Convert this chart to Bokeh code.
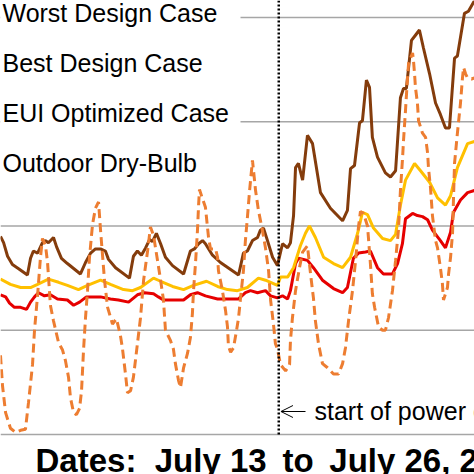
from bokeh.plotting import figure
from bokeh.models import Range1d, Span, Label, Arrow, OpenHead, BoxAnnotation
from bokeh.embed import file_html
from bokeh.resources import INLINE

# ---------------- data (hours since July 13 00:00, temperature) ----------------
worst_hours = [42.0, 43.4, 45.2, 47.4, 50.2, 54.2, 55.6, 56.9, 58.8, 61.0, 62.4, 63.7, 66.0, 67.4, 69.6, 72.3,
               78.2, 80.5, 82.8, 85.0, 87.3, 89.5, 90.9, 94.1, 100.4, 102.2, 104.0, 105.8, 107.7, 109.5, 110.8,
               112.6, 114.5, 116.7, 119.9, 124.9, 128.0, 129.8, 131.7, 133.5, 134.8, 138.0, 141.6, 149.8, 152.0,
               153.8, 156.1, 158.4, 159.7, 161.1, 162.9, 165.2, 167.4, 169.7, 172.0, 173.3, 174.7, 175.6, 176.9,
               178.8, 181.0, 183.3, 186.9, 191.4, 196.9, 199.1, 200.5, 202.3, 204.6, 205.9, 207.7, 209.1, 210.4,
               212.7, 216.3, 218.6, 220.9, 223.1, 224.5, 225.8, 228.1, 229.9, 231.7, 233.5, 236.3, 239.0, 241.2,
               243.5, 245.3, 247.6, 248.9, 252.1, 253.9, 256.6]
worst_temp = [79.0, 78.4, 77.1, 76.3, 75.9, 75.3, 76.9, 77.6, 77.4, 78.4, 78.6, 78.4, 78.9, 78.0, 76.9, 76.4,
              75.4, 76.5, 77.4, 77.8, 77.8, 77.6, 76.8, 76.0, 75.0, 77.1, 77.6, 77.2, 77.9, 78.7, 78.5,
              79.3, 78.3, 77.0, 76.2, 75.4, 77.6, 77.8, 78.3, 78.6, 78.3, 77.2, 76.5, 75.3, 77.4,
              77.6, 78.6, 78.9, 79.6, 79.8, 78.6, 77.0, 76.2, 78.3, 77.9, 78.4, 81.0, 85.6, 86.0,
              84.4, 88.7, 87.9, 83.2, 81.7, 80.5, 81.5, 85.5, 85.8, 89.9, 90.1, 94.0, 93.3, 88.5,
              86.6, 85.1, 84.7, 85.3, 92.3, 93.2, 93.2, 97.8, 98.3, 98.8, 97.1, 94.6, 91.8, 90.7,
              89.4, 89.4, 96.1, 96.3, 100.4, 100.6, 101.6]

best_hours = [42.0, 44.3, 46.1, 48.3, 51.1, 53.8, 55.6, 57.4, 59.2, 61.9, 64.6, 67.8, 72.3, 75.1, 77.8, 80.9,
              84.1, 87.3, 91.8, 95.4, 100.0, 104.0, 107.2, 111.3, 113.5, 115.8, 124.9, 128.0, 131.2, 134.8,
              140.3, 146.2, 149.8, 152.9, 155.2, 158.4, 162.0, 164.3, 167.4, 169.7, 172.0, 173.3, 175.6, 176.9,
              181.0, 183.7, 187.8, 192.8, 196.9, 199.1, 201.8, 204.1, 207.3, 209.5, 212.7, 215.4, 219.5, 221.8,
              224.0, 225.4, 228.6, 230.8, 233.1, 235.4, 237.6, 241.2, 243.5, 245.8, 247.1, 250.3, 253.5, 256.6]
best_temp = [73.4, 73.2, 72.6, 72.2, 72.2, 72.0, 72.7, 73.2, 73.6, 73.3, 73.4, 73.0, 72.9, 72.4, 72.7, 73.2,
             73.2, 73.2, 73.0, 72.9, 72.7, 73.4, 73.6, 73.5, 73.2, 72.9, 72.9, 73.4, 73.6, 73.3,
             73.0, 73.0, 73.0, 73.6, 73.8, 73.6, 73.8, 73.3, 73.1, 73.3, 73.0, 73.8, 76.4, 76.9,
             76.7, 76.0, 74.8, 74.0, 73.6, 74.1, 76.9, 77.4, 77.5, 77.6, 76.0, 75.4, 75.4, 76.4,
             78.3, 80.7, 81.2, 81.0, 80.9, 80.6, 79.6, 78.6, 77.9, 79.4, 81.3, 82.5, 83.2, 83.4]

eui_hours = [42.0, 46.5, 51.1, 55.6, 58.8, 63.7, 68.3, 72.3, 77.3, 81.4, 87.3, 91.8, 97.7, 101.8, 105.4, 111.3,
             114.5, 119.9, 124.9, 129.4, 135.3, 140.3, 144.8, 149.3, 153.8, 158.8, 162.0, 167.4, 168.8, 172.0,
             174.7, 177.8, 180.1, 181.9, 184.6, 188.3, 192.8, 196.9, 200.5, 203.7, 205.9, 208.2, 210.9, 215.0,
             218.6, 220.9, 223.1, 225.4, 229.5, 232.2, 236.3, 239.9, 243.5, 245.8, 248.9, 253.5, 256.6]
eui_temp = [74.9, 74.4, 74.1, 74.1, 74.4, 74.9, 74.6, 74.3, 73.9, 74.3, 74.8, 74.4, 73.9, 73.8, 74.1, 75.0,
            74.7, 74.2, 73.9, 74.3, 74.7, 74.2, 73.9, 73.8, 74.1, 75.0, 74.8, 74.3, 75.1, 75.1,
            76.0, 78.1, 79.3, 80.0, 78.9, 77.0, 76.4, 76.0, 77.0, 79.3, 81.3, 81.1, 79.8, 78.8,
            78.6, 79.2, 82.0, 84.4, 86.0, 85.3, 84.2, 82.7, 82.0, 82.9, 85.6, 87.9, 88.1]

outdoor_hours = [42.0, 42.9, 44.3, 46.5, 48.8, 51.1, 53.3, 54.7, 56.5, 57.4, 58.8, 60.1, 61.0, 62.4, 63.3, 64.6,
                 66.0, 68.3, 70.1, 71.4, 72.8, 73.7, 75.1, 76.4, 77.8, 78.7, 79.6, 80.5, 81.4, 82.3, 83.7, 85.0,
                 86.4, 87.3, 88.2, 89.1, 90.5, 92.7, 94.5, 96.3, 97.2, 98.6, 99.5, 100.9, 102.2, 104.0, 105.4,
                 106.8, 108.6, 109.9, 111.3, 113.1, 114.5, 115.8, 116.7, 119.0, 120.3, 121.2, 122.6, 123.5, 124.9,
                 126.7, 128.0, 128.9, 129.4, 130.3, 131.2, 131.7, 132.1, 133.5, 134.8, 136.2, 137.1, 139.4, 140.3,
                 140.7, 142.5, 143.9, 144.8, 145.2, 146.2, 147.5, 148.9, 149.8, 150.7, 152.0, 152.9, 153.8, 154.8,
                 156.1, 157.5, 158.8, 160.6, 162.0, 163.4, 164.3, 165.6, 166.5, 167.4, 168.8, 171.1, 172.9, 173.3,
                 174.2, 175.6, 177.4, 178.8, 181.0, 182.4, 183.7, 184.6, 186.0, 187.8, 190.1, 192.8, 195.1, 196.9,
                 198.2, 199.6, 201.4, 202.8, 204.1, 205.0, 206.4, 208.2, 208.6, 209.5, 210.4, 211.4, 213.2, 215.0,
                 216.3, 217.7, 219.5, 220.9, 222.2, 223.1, 224.0, 224.5, 225.4, 226.3, 226.8, 228.6, 229.0, 229.5,
                 229.9, 230.8, 231.3, 233.1, 234.5, 235.4, 235.8, 236.7, 237.6, 239.0, 239.9, 241.2, 242.1, 242.6,
                 244.4, 244.9, 245.8, 246.7, 247.1, 247.6, 248.9, 250.3, 251.2, 251.7, 252.6, 253.5, 255.3, 256.6]
outdoor_temp = [67.6, 64.7, 62.1, 60.6, 60.2, 60.4, 60.5, 63.1, 66.7, 70.0, 73.4, 77.0, 78.8, 78.1, 76.5, 72.4,
                70.9, 68.8, 68.1, 67.1, 65.5, 63.5, 62.1, 61.9, 62.5, 64.2, 68.1, 71.2, 73.8, 77.0, 80.2, 81.7,
                82.3, 79.6, 77.2, 74.8, 72.2, 70.6, 71.1, 69.5, 68.3, 65.8, 64.0, 64.2, 65.5, 68.7, 71.2,
                74.8, 77.6, 79.9, 79.1, 76.7, 74.8, 72.9, 70.0, 69.0, 68.2, 66.8, 65.2, 64.5, 66.4,
                67.8, 69.3, 71.6, 73.8, 76.4, 79.6, 82.0, 83.5, 82.6, 81.8, 78.9, 77.8, 77.8, 77.0,
                75.7, 73.8, 71.9, 70.3, 68.5, 67.9, 68.3, 70.0, 71.2, 73.1, 75.7, 78.6, 80.8, 83.4,
                86.3, 83.4, 81.5, 79.6, 77.9, 75.7, 72.9, 70.6, 68.7, 68.2, 66.7, 66.1, 66.7, 69.0,
                71.2, 73.8, 76.0, 77.5, 78.1, 75.4, 73.1, 70.9, 68.7, 66.8, 66.4, 65.8, 65.8, 66.8,
                68.3, 70.9, 73.8, 76.7, 79.9, 81.4, 81.2, 80.0, 78.9, 76.4, 73.5, 72.2, 70.3, 70.0,
                70.0, 71.2, 73.8, 76.7, 79.6, 83.4, 86.3, 88.2, 91.1, 94.2, 95.6, 96.6, 95.9, 94.6,
                93.3, 91.8, 90.1, 88.9, 88.5, 87.0, 85.6, 83.7, 81.0, 78.6, 77.9, 76.0, 74.5, 72.9,
                74.1, 75.4, 77.0, 79.3, 82.4, 86.0, 88.9, 91.8, 94.2, 95.2, 94.6, 94.2, 94.1, 94.2]

series_names = ["Worst Design Case", "Best Design Case", "EUI Optimized Case", "Outdoor Dry-Bulb"]
grid_ticks = [60, 70, 80, 90, 100]
outage_hour = 168.0
outage_label = "start of power outage"
dates_label = "Dates:\u00a0\u00a0July 13\u2009 to\u2009 July 26, 2018"

# ---------------- layout helpers (screen px -> data, for annotation placement) ----------------
W = H = 474
PX_PER_HOUR = 53.0 / 24.0
PX_PER_DEG = 10.425
X_START = 42.0
BASE_PY = 434
TXT_OFF = 8  # label baseline correction in px

x_end = X_START + W / PX_PER_HOUR
y_top = grid_ticks[0] + BASE_PY / PX_PER_DEG
y_bot = grid_ticks[0] - (H - BASE_PY) / PX_PER_DEG


def hx(px):
    return X_START + px / PX_PER_HOUR


def vy(py):
    return grid_ticks[0] + (BASE_PY - py) / PX_PER_DEG


FONT = "Liberation Sans"

p = figure(width=W, height=H, x_range=Range1d(X_START, x_end), y_range=Range1d(y_bot, y_top),
           output_backend="svg", toolbar_location=None, x_axis_location=None, y_axis_location=None,
           min_border=0, outline_line_color=None)
p.xgrid.visible = False
p.ygrid.visible = False
p.background_fill_color = "white"
p.border_fill_color = "white"

for t in grid_ticks:
    p.add_layout(Span(location=t, dimension="width", line_color="#A6A6A6", line_width=1.5, level="underlay"))

# white legend background (covers gridlines behind the legend text)
p.add_layout(BoxAnnotation(left=hx(0), right=hx(240), top=y_top, bottom=vy(186),
                           fill_color="white", fill_alpha=1.0, line_color=None, level="underlay"))

p.line(worst_hours, worst_temp, line_color="#843C0C", line_width=3)
p.line(best_hours, best_temp, line_color="#E60000", line_width=3)
p.line(eui_hours, eui_temp, line_color="#FFC000", line_width=3)
p.line(outdoor_hours, outdoor_temp, line_color="#ED7D31", line_width=3, line_dash="9 5")

# start of outage marker
p.segment(x0=[outage_hour], y0=[grid_ticks[0]], x1=[outage_hour], y1=[y_top],
          line_color="black", line_width=2.5, line_dash="2 2")
p.add_layout(Arrow(end=OpenHead(size=12, line_width=1, line_color="black"),
                   x_start=hx(305), y_start=vy(411), x_end=outage_hour + 1.0, y_end=vy(411),
                   line_width=1, line_color="black"))
p.add_layout(Label(x=hx(314), y=vy(418 - TXT_OFF), text=outage_label, text_font=FONT, text_font_size="25px",
                   text_color="black", text_baseline="alphabetic"))

# legend texts
for i, name in enumerate(series_names):
    p.add_layout(Label(x=hx(2), y=vy(20 + 50 * i - TXT_OFF), text=name, text_font=FONT, text_font_size="25px",
                       text_color="black", text_baseline="alphabetic"))

p.add_layout(Label(x=hx(35), y=vy(468 - TXT_OFF), text=dates_label, text_font=FONT, text_font_size="33px",
                   text_font_style="bold", text_color="black", text_baseline="alphabetic"))

open("out.html", "w").write(file_html(p, INLINE))
